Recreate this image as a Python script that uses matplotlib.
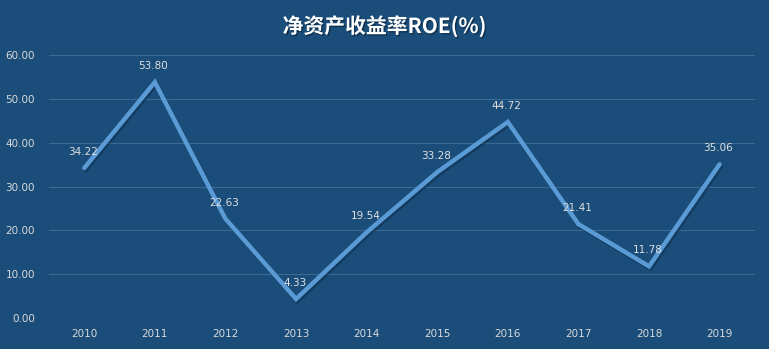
import matplotlib
matplotlib.use("Agg")
import matplotlib.pyplot as plt
import matplotlib.patheffects as pe

years = ["2010", "2011", "2012", "2013", "2014", "2015", "2016", "2017", "2018", "2019"]
roe = [34.22, 53.80, 22.63, 4.33, 19.54, 33.28, 44.72, 21.41, 11.78, 35.06]
yticks = [0, 10, 20, 30, 40, 50, 60]

bg = "#1A4D7A"
fig = plt.figure(figsize=(7.69, 3.49), dpi=100, facecolor=bg)
ax = fig.add_axes([0.0637, 0.0888, 0.918, 0.7536], facecolor=bg)

x = list(range(len(years)))
ax.plot(x, roe, color="#5B9BD5", lw=3.2, solid_capstyle="round", solid_joinstyle="miter",
        path_effects=[pe.SimpleLineShadow(offset=(1, -1.5), shadow_color="#0d2a45", alpha=0.5), pe.Normal()], zorder=3)
for xi, v in zip(x, roe):
    ax.annotate(f"{v:.2f}", (xi, v), xytext=(-1, 8), textcoords="offset points",
                ha="center", va="bottom", color="#E0E0E0", fontsize=7.5, zorder=4)

ax.set_xlim(-0.5, 9.5)
ax.set_ylim(0, 60)
ax.set_yticks(yticks)
ax.set_yticklabels([f"{t:.2f}" for t in yticks])
ax.set_xticks(x)
ax.set_xticklabels(years)
ax.tick_params(colors="#D9D9D9", labelsize=7.5, length=0)
ax.tick_params(axis="y", pad=10)
ax.tick_params(axis="x", pad=8)
ax.grid(axis="y", color="#3A6A93", lw=0.8)
ax.set_axisbelow(True)
for s in ax.spines.values():
    s.set_visible(False)

fig.text(0.5, 0.925, "净资产收益率ROE(%)", ha="center", va="center", color="white",
         fontsize=15, fontweight="bold", family=["Noto Sans CJK SC", "DejaVu Sans"],
         path_effects=[pe.withSimplePatchShadow(offset=(1, -1), shadow_rgbFace="#0a2540", alpha=0.7)])

fig.savefig("out.png", dpi=100, facecolor=bg)
